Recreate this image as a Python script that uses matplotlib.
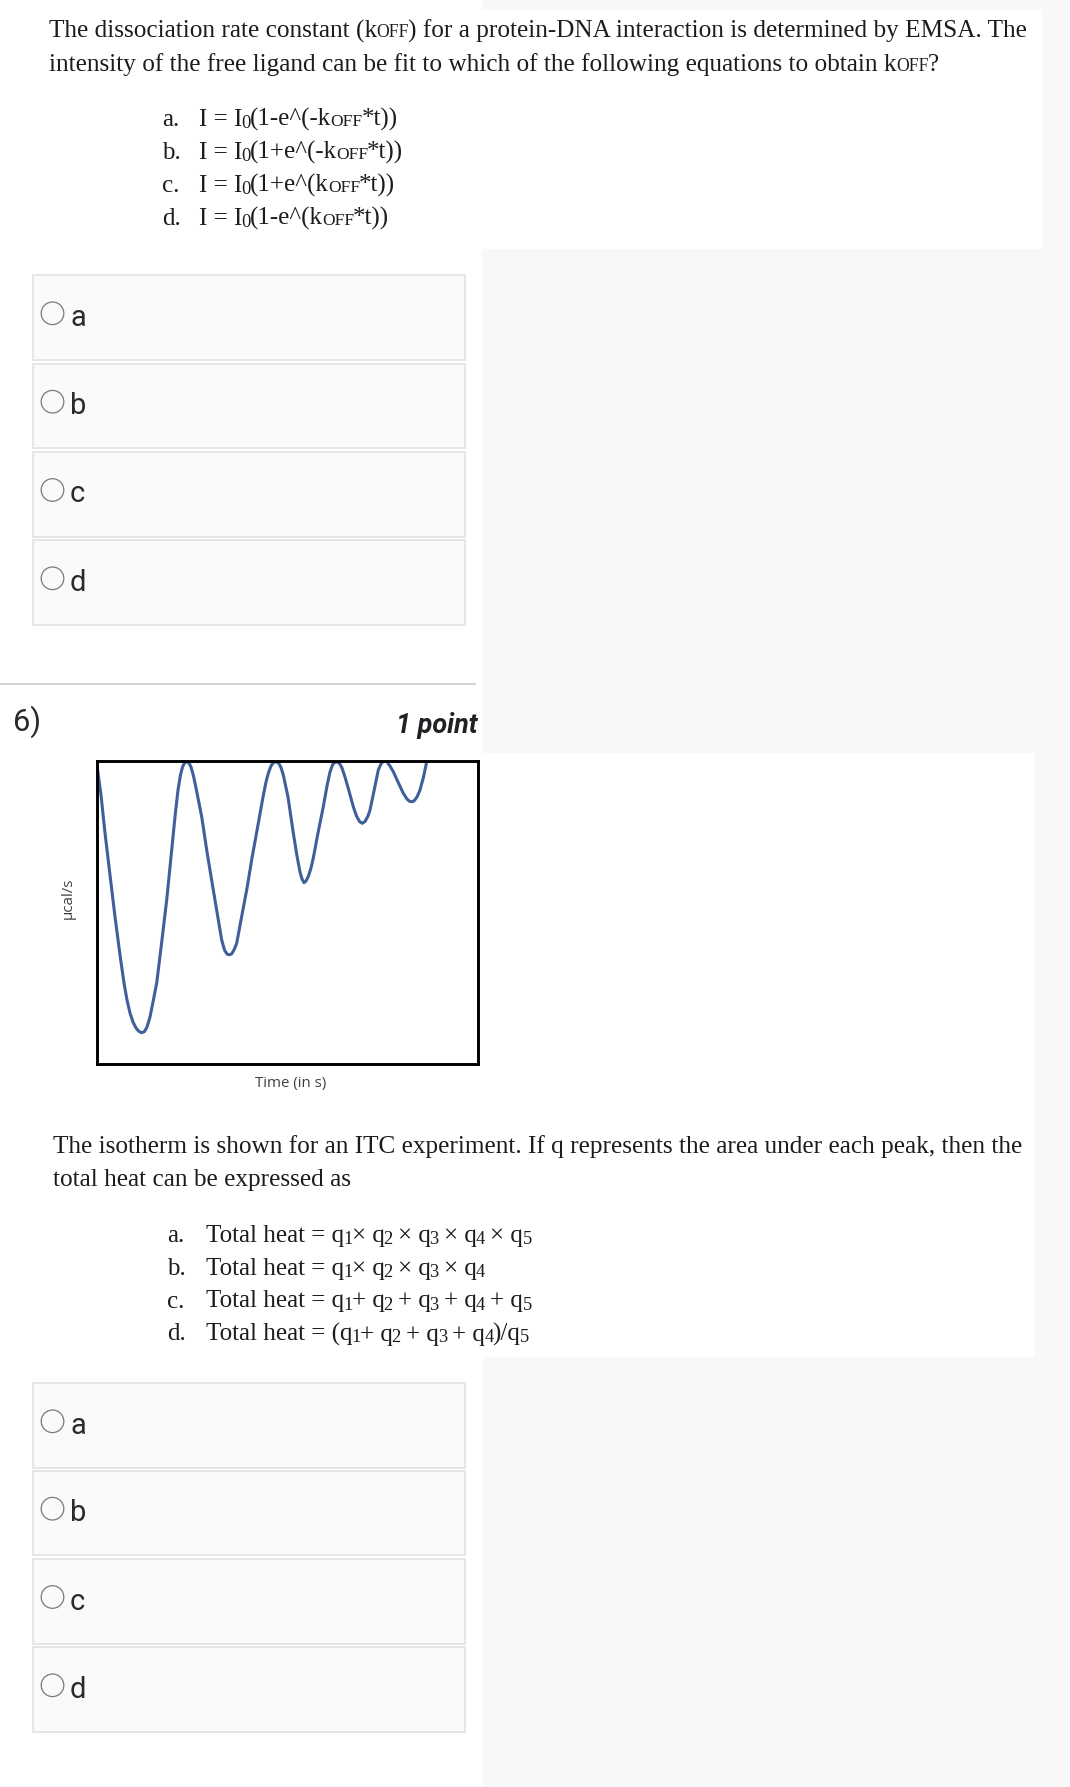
import matplotlib
matplotlib.use("Agg")
import matplotlib.pyplot as plt
import matplotlib.patches as mpatches

# ITC trace (arbitrary units: time 0-381, signal 0-303)
time_s = [0.2, 4.5, 8.5, 13.5, 18.5, 23.5, 27.5, 30.5, 33.5, 36.5, 39.5, 42.5, 45.2, 48,
          50.5, 53.5, 56.5, 60.2, 64.5, 70.2, 74.5, 78.5, 81.5, 84, 86, 88, 90.2, 92.5,
          94.5, 97, 99.5, 105.2, 110.5, 116.8, 121.5, 125.2, 128, 130.5, 132.5, 135,
          137.5, 140.2, 144.5, 150.2, 155.5, 161.8, 166.5, 169.5, 171.8, 174.5, 177,
          179.5, 182, 184.5, 186.8, 191.5, 196.8, 200.5, 203.5, 205.5, 207.5, 209.5,
          212, 214.5, 216.8, 221.5, 226.8, 230.5, 233.5, 236, 238, 240.3, 243, 245.5,
          248.5, 252.5, 256.8, 260, 263, 265.8, 268.5, 271.5, 273.5, 277.5, 281.8,
          284.5, 286.5, 288.5, 290.5, 293.5, 296.8, 301.5, 306.8, 310.5, 313, 315.2,
          317.5, 320.5, 323.5, 327, 330.2]
ucal_s = [300.2, 268.5, 230.5, 188.5, 146.8, 108.5, 80.5, 63.5, 50.5, 41.5, 35.5, 32, 30.8,
          32, 36.5, 46.5, 61.5, 80.5, 115.5, 163.5, 206.5, 246.8, 273.5, 288.5, 296.5,
          300.5, 301.8, 300.5, 296.5, 287.5, 275.5, 246.8, 211.5, 173.5, 145.5, 123.5,
          113.5, 109.5, 108.7, 109.5, 113.5, 120.2, 143.5, 173.5, 205.5, 240.2, 266.5,
          281.5, 290.2, 297.5, 301, 301.8, 300.5, 296, 288.5, 266.5, 230.5, 207.5, 191.5,
          184.5, 180.8, 182.5, 187.5, 195.5, 205.5, 230.5, 256.8, 277.5, 291.5, 298.5,
          301, 301.8, 300, 295.5, 286.5, 272.5, 256.8, 247.5, 242, 240.2, 242, 247.5,
          253.5, 272.5, 293.5, 299.5, 302, 302.8, 301.5, 297.5, 291.8, 281.5, 270.2,
          264.5, 262.2, 261.8, 262.5, 266.5, 273.5, 286.5, 301.8]

choices = ["a", "b", "c", "d"]
option_labels = ["a.", "b.", "c.", "d."]

# text runs: (text, kind) with kind n = normal, sc = small caps, sub = subscript
q5_lines = [
    [("The dissociation rate constant (k", "n"), ("OFF", "sc"),
     (") for a protein-DNA interaction is determined by EMSA. The", "n")],
    [("intensity of the free ligand can be fit to which of the following equations to obtain k", "n"),
     ("OFF", "sc"), ("?", "n")],
]
q5_options = [
    [("I = I", "n"), ("0", "sub"), ("(1-e^(-k", "n"), ("OFF", "sc"), ("*t))", "n")],
    [("I = I", "n"), ("0", "sub"), ("(1+e^(-k", "n"), ("OFF", "sc"), ("*t))", "n")],
    [("I = I", "n"), ("0", "sub"), ("(1+e^(k", "n"), ("OFF", "sc"), ("*t))", "n")],
    [("I = I", "n"), ("0", "sub"), ("(1-e^(k", "n"), ("OFF", "sc"), ("*t))", "n")],
]
q6_lines = [
    [("The isotherm is shown for an ITC experiment. If q represents the area under each peak, then the", "n")],
    [("total heat can be expressed as", "n")],
]
q6_options = [
    [("Total heat = q", "n"), ("1", "sub"), ("\u00d7 q", "n"), ("2", "sub"), (" \u00d7 q", "n"),
     ("3", "sub"), (" \u00d7 q", "n"), ("4", "sub"), (" \u00d7 q", "n"), ("5", "sub")],
    [("Total heat = q", "n"), ("1", "sub"), ("\u00d7 q", "n"), ("2", "sub"), (" \u00d7 q", "n"),
     ("3", "sub"), (" \u00d7 q", "n"), ("4", "sub")],
    [("Total heat = q", "n"), ("1", "sub"), ("+ q", "n"), ("2", "sub"), (" + q", "n"),
     ("3", "sub"), (" + q", "n"), ("4", "sub"), (" + q", "n"), ("5", "sub")],
    [("Total heat = (q", "n"), ("1", "sub"), ("+ q", "n"), ("2", "sub"), (" + q", "n"),
     ("3", "sub"), (" + q", "n"), ("4", "sub"), (")/q", "n"), ("5", "sub")],
]

W, H = 1070, 1787
PX = 0.72  # points per pixel at dpi 100
SERIF = "Liberation Serif"
INK = "#1c1c1c"

fig = plt.figure(figsize=(W / 100, H / 100), dpi=100)
page = fig.add_axes([0, 0, 1, 1])
page.set_xlim(0, W)
page.set_ylim(H, 0)
page.axis("off")
renderer = fig.canvas.get_renderer()

# page background: white column, grey side panel, white picture blocks
page.add_patch(mpatches.Rectangle((482, 0), W - 482, H, color="#f8f8f8", lw=0))
page.add_patch(mpatches.Rectangle((0, 9.5), 1041.5, 239, color="white", lw=0))
page.add_patch(mpatches.Rectangle((0, 753), 1035, 603.5, color="white", lw=0))

STYLE = {"n": (1.0, 0.0), "sc": (0.7, 0.0), "sub": (0.74, 0.08)}


def text_width(s, size_px):
    t = page.text(0, 0, s, fontsize=size_px * PX, family=SERIF)
    w = t.get_window_extent(renderer).width
    t.remove()
    return w


def draw_runs(x, y, runs, size_px):
    for s, kind in runs:
        scale, dy = STYLE[kind]
        fs = size_px * scale
        space = text_width("a a", fs) - text_width("aa", fs)
        core = s.strip(" ")
        x += (len(s) - len(s.lstrip(" "))) * space
        if core:
            page.text(x, y + dy * size_px, core, fontsize=fs * PX, family=SERIF,
                      color=INK, va="baseline", ha="left")
            x += text_width(core, fs) - 1.0
        x += (len(s) - len(s.rstrip(" "))) * space


def question_block(x_text, base_lines, x_label, x_formula, base_opts, lines, options):
    for yb, runs in zip(base_lines, lines):
        draw_runs(x_text, yb, runs, 25.2)
    for yb, lab, runs in zip(base_opts, option_labels, options):
        page.text(x_label, yb, lab, fontsize=25 * PX, family=SERIF, color=INK, va="baseline")
        draw_runs(x_formula, yb, runs, 25)


def choice_boxes(tops):
    for top, ch in zip(tops, choices):
        page.add_patch(mpatches.Rectangle((32.5, top), 432.5, 84.5, facecolor="#fafafa",
                                          edgecolor="#e2e2e2", lw=1.2))
        page.add_patch(mpatches.Circle((52.5, top + 38), 11.3, facecolor="none",
                                       edgecolor="#7a7a7a", lw=0.9))
        page.text(70, top + 50.5, ch, fontsize=29 * PX, family="Roboto", color="#2a2a2a",
                  va="baseline")


question_block(49.3, [37.3, 71.3], 161.7, 199.3, [126, 159, 192, 225], q5_lines, q5_options)
choice_boxes([275.3, 363.7, 452, 540.3])

page.plot([0, 475], [683.5, 683.5], color="#c9c9c9", lw=1.2)
page.text(13, 731, "6)", fontsize=31 * PX, family="Roboto", color="#2a2a2a", va="baseline")
page.text(478, 733, "1 point", fontsize=27 * PX, family="Roboto", weight="bold",
          style="italic", color="#202124", va="baseline", ha="right")

# ITC plot
x0, x1, ytop, ybot = 96.5, 477.5, 760.5, 1063.5
ax = fig.add_axes([x0 / W, (H - ybot) / H, (x1 - x0) / W, (ybot - ytop) / H])
ax.plot(time_s, ucal_s, color="#3f5f9b", lw=2.2, solid_joinstyle="round")
ax.set_xlim(0, 381)
ax.set_ylim(0, 303)
ax.set_xticks([])
ax.set_yticks([])
for sp in ax.spines.values():
    sp.set_linewidth(2.1)
    sp.set_color("black")
    sp.set_zorder(5)
page.text(291, 1083, "Time (in s)", fontsize=15 * PX, family="Open Sans", color="#404040",
          ha="center", va="center")
page.text(68, 898, "\u00b5cal/s", fontsize=15 * PX, family="Open Sans", color="#404040",
          ha="center", va="center", rotation=90)

question_block(53.4, [1153.3, 1186.3], 167, 206, [1241.7, 1275, 1307.5, 1340.5], q6_lines, q6_options)
choice_boxes([1383.3, 1470.7, 1559, 1647.3])

fig.savefig("out.png", dpi=100)
